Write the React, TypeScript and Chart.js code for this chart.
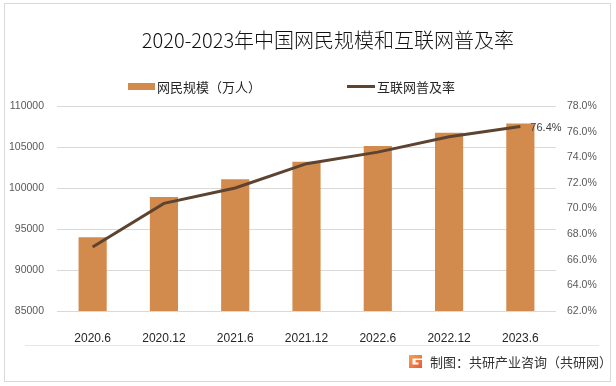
import React, { useEffect, useRef } from 'react';
import { Chart, registerables } from 'chart.js';

Chart.register(...registerables);

const categories = ['2020.6', '2020.12', '2021.6', '2021.12', '2022.6', '2022.12', '2023.6'];
const netizens = [93984, 98899, 101074, 103195, 105114, 106744, 107853];
const penetration = [67.0, 70.4, 71.6, 73.5, 74.4, 75.6, 76.4];
const barLabel = '网民规模（万人）';
const lineLabel = '互联网普及率';
const titleText = '2020-2023年中国网民规模和互联网普及率';
const sourceText = '制图：共研产业咨询（共研网）';

const BAR_COLOR = '#D38B4D';
const LINE_COLOR = '#5E4430';
const CJK = '"Noto Sans CJK SC", "Noto Sans", sans-serif';
const NUM = '"Liberation Sans", Arial, sans-serif';

const lastLabelPlugin = {
  id: 'lastLabel',
  afterDatasetsDraw(chart: any) {
    const meta = chart.getDatasetMeta(1);
    const pts = meta.data;
    if (!pts || !pts.length) return;
    const p = pts[pts.length - 1];
    const v = penetration[penetration.length - 1];
    const ctx = chart.ctx;
    ctx.save();
    ctx.font = `11px ${NUM}`;
    ctx.fillStyle = '#404040';
    ctx.textAlign = 'left';
    ctx.textBaseline = 'middle';
    ctx.fillText(v.toFixed(1) + '%', p.x + 10, p.y + 1);
    ctx.restore();
  },
};

export default function App() {
  const ref = useRef<HTMLCanvasElement>(null);

  useEffect(() => {
    if (!ref.current) return;
    const chart = new Chart(ref.current, {
      type: 'bar',
      data: {
        labels: categories,
        datasets: [
          {
            type: 'bar',
            label: barLabel,
            data: netizens,
            backgroundColor: BAR_COLOR,
            yAxisID: 'y',
            barPercentage: 0.395,
            categoryPercentage: 1,
            order: 2,
          },
          {
            type: 'line',
            label: lineLabel,
            data: penetration,
            borderColor: LINE_COLOR,
            backgroundColor: LINE_COLOR,
            borderWidth: 3,
            pointRadius: 0,
            tension: 0,
            yAxisID: 'y1',
            order: 1,
          } as any,
        ],
      },
      options: {
        responsive: false,
        animation: false,
        devicePixelRatio: 1,
        layout: { padding: { left: 0, right: 0, top: 106, bottom: 35 } },
        plugins: {
          legend: { display: false },
          title: { display: false },
          tooltip: { enabled: false },
        },
        scales: {
          x: {
            grid: { display: false },
            border: { display: false },
            ticks: {
              color: '#262626',
              font: { family: NUM, size: 12 },
              padding: 12,
              maxRotation: 0,
              autoSkip: false,
            },
            afterFit: (s: any) => {
              s.height = 40;
            },
          },
          y: {
            position: 'left',
            min: 85000,
            max: 110000,
            grid: { color: '#d9d9d9', lineWidth: 1, drawTicks: false },
            border: { display: false },
            ticks: {
              stepSize: 5000,
              color: '#595959',
              font: { family: NUM, size: 10.5 },
              padding: 13,
              callback: (v: any) => String(Math.round(Number(v))),
            },
            afterFit: (s: any) => {
              s.width = 57;
            },
          },
          y1: {
            position: 'right',
            min: 62,
            max: 78,
            grid: { display: false, drawTicks: false },
            border: { display: false },
            ticks: {
              stepSize: 2,
              color: '#595959',
              font: { family: NUM, size: 10.5 },
              padding: 11,
              callback: (v: any) => Number(v).toFixed(1) + '%',
            },
            afterFit: (s: any) => {
              s.width = 60;
            },
          },
        },
      },
      plugins: [lastLabelPlugin],
    });
    return () => chart.destroy();
  }, []);

  return (
    <div
      style={{
        position: 'fixed',
        left: 0,
        top: 0,
        width: 616,
        height: 386,
        background: '#fff',
        overflow: 'hidden',
      }}
    >
      <canvas
        ref={ref}
        width={616}
        height={386}
        style={{ position: 'absolute', left: 0, top: 0, width: 616, height: 386 }}
      />
      <div
        style={{
          position: 'absolute',
          left: 4,
          top: 3,
          width: 605,
          height: 377,
          border: '1px solid #d9d9d9',
          pointerEvents: 'none',
        }}
      />
      <div
        style={{
          position: 'absolute',
          left: 0,
          top: 29,
          width: 656,
          textAlign: 'center',
          fontFamily: CJK,
          fontSize: 20,
          fontWeight: 300,
          lineHeight: '22px',
          color: '#111',
          whiteSpace: 'nowrap',
        }}
      >
        {titleText}
      </div>
      <div
        style={{
          position: 'absolute',
          left: 128,
          top: 83,
          width: 27,
          height: 7,
          background: BAR_COLOR,
        }}
      />
      <div
        style={{
          position: 'absolute',
          left: 157,
          top: 79,
          fontFamily: CJK,
          fontSize: 13,
          lineHeight: '16px',
          color: '#262626',
          whiteSpace: 'nowrap',
        }}
      >
        {barLabel}
      </div>
      <div
        style={{
          position: 'absolute',
          left: 347,
          top: 85,
          width: 28,
          height: 3,
          background: LINE_COLOR,
        }}
      />
      <div
        style={{
          position: 'absolute',
          left: 377,
          top: 79,
          fontFamily: CJK,
          fontSize: 13,
          lineHeight: '16px',
          color: '#262626',
          whiteSpace: 'nowrap',
        }}
      >
        {lineLabel}
      </div>
      <div
        style={{
          position: 'absolute',
          left: 25,
          top: 345,
          width: 574,
          height: 1,
          background: '#e6e6e6',
        }}
      />
      <svg
        width={15}
        height={15}
        viewBox="0 0 15 15"
        style={{ position: 'absolute', left: 408, top: 354 }}
      >
        <defs>
          <linearGradient id="lg" x1="0" y1="0" x2="1" y2="1">
            <stop offset="0" stopColor="#F9A24B" />
            <stop offset="1" stopColor="#E8593A" />
          </linearGradient>
        </defs>
        <path d="M1 1 H14 V4.5 H4.5 V10.5 H10.5 V8.5 H7.5 V6 H14 V14 H1 Z" fill="url(#lg)" />
      </svg>
      <div
        style={{
          position: 'absolute',
          left: 430,
          top: 354,
          fontFamily: CJK,
          fontSize: 13,
          lineHeight: '16px',
          color: '#333',
          whiteSpace: 'nowrap',
        }}
      >
        {sourceText}
      </div>
    </div>
  );
}
